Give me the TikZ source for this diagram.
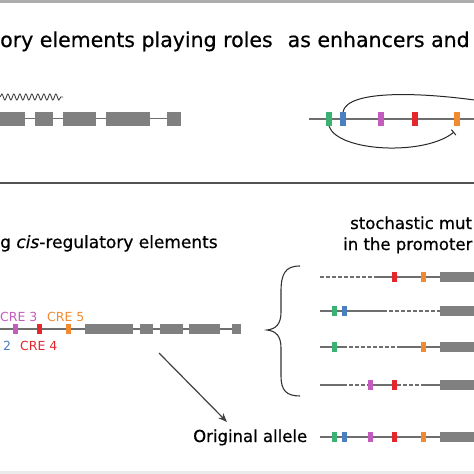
\documentclass[tikz,border=0pt]{standalone}
\usepackage{fontspec}
\setmainfont{DejaVu Sans}
\newfontfamily\heavyfont[FakeBold=0.6, ItalicFeatures={FakeBold=0.6}]{DejaVu Sans}
\usetikzlibrary{arrows.meta, decorations.pathmorphing}

\definecolor{creGreen}{HTML}{3BB273}
\definecolor{creBlue}{HTML}{4A7FC0}
\definecolor{creMagenta}{HTML}{C45CBF}
\definecolor{creRed}{HTML}{E6262D}
\definecolor{creOrange}{HTML}{F28A30}
\definecolor{exonGray}{HTML}{808080}
\definecolor{lineGray}{HTML}{6E6E6E}

\begin{document}
\begin{tikzpicture}[x=1pt, y=-1pt]
	\tikzstyle{exon}      = [fill=exonGray, draw=none]
	\tikzstyle{intron}    = [draw=lineGray, line width=1.3pt]
	\tikzstyle{intronGap} = [draw=lineGray, line width=1.3pt, dash pattern=on 3.5pt off 2.5pt]
	\tikzstyle{cre}       = [rectangle, inner sep=0pt, minimum width=5pt, minimum height=10pt]
	\tikzstyle{bigcre}    = [rectangle, inner sep=0pt, minimum width=6pt, minimum height=14pt]
	\tikzstyle{creG}      = [fill=creGreen]
	\tikzstyle{creB}      = [fill=creBlue]
	\tikzstyle{creM}      = [fill=creMagenta]
	\tikzstyle{creR}      = [fill=creRed]
	\tikzstyle{creO}      = [fill=creOrange]
	\tikzstyle{label}     = [anchor=base west, inner sep=0pt]
	\tikzstyle{loop}      = [draw=black!85, line width=1pt]

	\useasboundingbox (0,0) rectangle (474,474);
	\clip (0,0) rectangle (474,474);
%	\draw[step=20pt, gray!30] (0,0) grid (474,474);

	\fill[black!32] (0,0) rectangle (474,2.5);
	\fill[black!8] (0,471) rectangle (474,474);
	\draw[black!68, line width=1.5pt] (0,183) -- (474,183);

	% upper panel
	\node[label, font=\heavyfont\fontsize{20.5}{24}\selectfont] (title) at (0,47) {ory elements playing roles\hspace{15pt}as enhancers and};

	\draw[decorate, decoration={snake, amplitude=3pt, segment length=6pt}, black!75, line width=0.9pt] (0,97) -- (63,97);
	\draw[intron, line width=1.8pt] (0,118.5) -- (167,118.5);
	\foreach \a/\b in {0/25, 35/53, 63/96, 106/150, 167/181}
		\fill[exon] (\a,112) rectangle (\b,126);

	\draw[intron, line width=1.8pt] (309,119) -- (474,119);
	\foreach \name/\x/\styl in {tg/329/G, tb/343/B, tm/381/M, tr/415/R, to/457/O}
		\node[bigcre, cre\styl] (\name) at (\x,119) {};

	\coordinate (arcout) at (495,103);
	\coordinate (barend) at (454,132);
	\draw[loop] (tb.north) .. controls (347,90) and (420,91) .. (arcout);
	\draw[loop, -{Bar[width=7pt]}] (tg.south) .. controls (338,152) and (425,156) .. (barend);

	% lower panel
	\node[label, font=\heavyfont\fontsize{17}{20}\selectfont] (cisttl) at (0,248) {g \textit{cis}-regulatory elements};

	\draw[intron] (0,329) -- (232,329);
	\foreach \a/\b in {85/133, 140/153, 160/183, 189/220, 232/241}
		\fill[exon] (\a,323.5) rectangle (\b,334);
	\foreach \name/\x/\styl in {mm/15/M, mr/39/R, mo/68/O}
		\node[cre, cre\styl] (\name) at (\x,329) {};

	\foreach \text/\x/\y/\col in {CRE 3/0/321/creMagenta, CRE 5/47/321/creOrange, 2/3/350/creBlue, CRE 4/20/350/creRed}
		\node[label, text=\col, font=\fontsize{12.5}{15}\selectfont] at (\x,\y) {\text};

	\node[label, font=\heavyfont\fontsize{16.5}{20}\selectfont] (stoch) at (350,229) {stochastic mut};
	\node[label, font=\heavyfont\fontsize{16.5}{20}\selectfont] (promo) at (343,250) {in the promoter};

	\draw[black!80, line width=1.1pt] (300,266) .. controls (285,266) and (281,274) .. (281,292) -- (281,312)
		.. controls (281,324) and (276,329) .. (267,330) .. controls (276,331) and (281,336) .. (281,348)
		-- (281,376) .. controls (281,390) and (286,396) .. (300,396);

	\foreach \y/\a/\b/\sty in {277/320/375/intronGap, 277/375/440/intron, 311/320/383/intron, 311/383/440/intronGap,
			347/320/343/intron, 347/343/400/intronGap, 347/400/440/intron,
			385/320/343/intron, 385/343/367/intronGap, 385/367/397/intron, 385/397/423/intronGap, 385/423/440/intron,
			437/320/440/intron}
		\draw[\sty] (\a,\y) -- (\b,\y);
	\foreach \y in {277, 311, 347, 385, 437}
		\fill[exon] (440,\y-5) rectangle (480,\y+5);
	\foreach \y/\marks in {277/{R/394,O/423}, 311/{G/334,B/344}, 347/{G/334,O/423}, 385/{M/370,R/394},
			437/{G/334,B/344,M/370,R/394,O/423}}
		\foreach \styl/\x in \marks
			\node[cre, cre\styl] (m\styl\y) at (\x,\y) {};

	\node[label, font=\heavyfont\fontsize{16.5}{20}\selectfont] (orig) at (193,442) {Original allele};
	\coordinate (arrtail) at (159,353);
	\coordinate (arrtip) at (227,422);
	\draw[black!75, line width=1.2pt, -{Stealth[length=9pt, width=7pt]}] (arrtail) -- (arrtip);
\end{tikzpicture}
\end{document}
